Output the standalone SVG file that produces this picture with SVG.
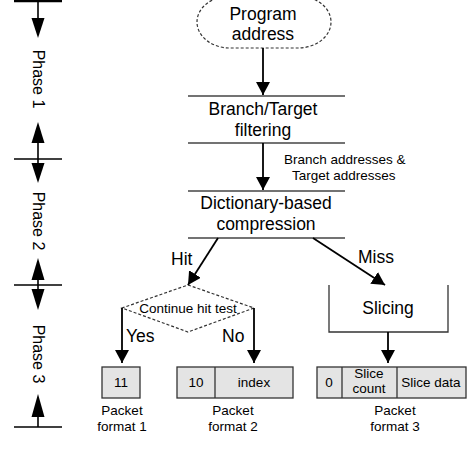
<svg xmlns="http://www.w3.org/2000/svg" width="474" height="462" viewBox="0 0 474 462">
<style>
text{font-family:"Liberation Sans",Arial,sans-serif;fill:#000}
.big{font-size:17.5px}
.mid{font-size:13.5px}
.lbl{font-size:13.5px}
.ph{font-size:16px}
.arr{stroke:#000;stroke-width:1.8;fill:none;marker-end:url(#ah)}
.hl{stroke:#444;stroke-width:1.4}
.ax{stroke:#000;stroke-width:1.6}
.box{fill:#e4e4e4;stroke:#333;stroke-width:1.3}
.dash{fill:#fff;stroke:#333;stroke-width:1.2;stroke-dasharray:3,2}
</style>
<defs>
<marker id="ah" markerUnits="userSpaceOnUse" markerWidth="15" markerHeight="14" refX="13" refY="7" orient="auto">
<path d="M0,0 L13,7 L0,14 z" fill="#000"/>
</marker>
</defs>
<g id="phase-axis">
<line class="ax" x1="38" y1="0" x2="38" y2="19"/>
<line class="ax" x1="38" y1="142" x2="38" y2="164"/>
<line class="ax" x1="38" y1="279" x2="38" y2="290"/>
<line class="ax" x1="38" y1="416" x2="38" y2="427"/>
<line class="ax" x1="14" y1="1" x2="62" y2="1" style="stroke-width:2.5"/>
<line class="ax" x1="14" y1="159" x2="62" y2="159"/>
<line class="ax" x1="14" y1="285" x2="62" y2="285"/>
<line class="ax" x1="14" y1="427" x2="62" y2="427"/>
<polygon points="31.5,18 44.5,18 38,38"/>
<polygon points="31.5,143 44.5,143 38,122"/>
<polygon points="31.5,163 44.5,163 38,183"/>
<polygon points="31.5,280 44.5,280 38,258"/>
<polygon points="31.5,289 44.5,289 38,310"/>
<polygon points="31.5,417 44.5,417 38,394"/>
<text class="ph" transform="translate(33,79) rotate(90)" text-anchor="middle">Phase 1</text>
<text class="ph" transform="translate(33,221) rotate(90)" text-anchor="middle">Phase 2</text>
<text class="ph" transform="translate(33,354) rotate(90)" text-anchor="middle">Phase 3</text>
</g>
<g id="program-address">
<rect class="dash" x="197" y="-4" width="134" height="52" rx="33" ry="26"/>
<text class="big" x="263" y="20" text-anchor="middle">Program</text>
<text class="big" x="263" y="40" text-anchor="middle">address</text>
</g>
<g id="branch-target-filtering">
<line class="hl" x1="188" y1="96" x2="345" y2="96"/>
<line class="hl" x1="188" y1="143" x2="345" y2="143"/>
<text class="big" x="263" y="115" text-anchor="middle">Branch/Target</text>
<text class="big" x="263" y="136" text-anchor="middle">filtering</text>
</g>
<g id="dictionary-compression">
<line class="hl" x1="188" y1="191" x2="345" y2="191"/>
<line class="hl" x1="188" y1="238" x2="345" y2="238"/>
<text class="big" x="266" y="209" text-anchor="middle">Dictionary-based</text>
<text class="big" x="266" y="230" text-anchor="middle">compression</text>
</g>
<g id="continue-hit-test">
<polygon class="dash" points="188,285 254,308 188,332 122,308"/>
<text class="mid" x="188" y="313" text-anchor="middle">Continue hit test</text>
</g>
<g id="slicing">
<polyline points="329,285 329,332 448,332 448,285" fill="none" stroke="#333" stroke-width="1.3"/>
<text class="big" x="388" y="314" text-anchor="middle">Slicing</text>
</g>
<g id="packet-format-1">
<rect class="box" x="102" y="367" width="38" height="31"/>
<text class="lbl" x="121" y="387" text-anchor="middle">11</text>
<text class="lbl" x="122" y="415" text-anchor="middle">Packet</text>
<text class="lbl" x="122" y="431" text-anchor="middle">format 1</text>
</g>
<g id="packet-format-2">
<rect class="box" x="177" y="367" width="116" height="31"/>
<line x1="215" y1="367" x2="215" y2="398" stroke="#333" stroke-width="1.3"/>
<text class="lbl" x="196" y="387" text-anchor="middle">10</text>
<text class="lbl" x="254" y="387" text-anchor="middle">index</text>
<text class="lbl" x="233" y="415" text-anchor="middle">Packet</text>
<text class="lbl" x="233" y="431" text-anchor="middle">format 2</text>
</g>
<g id="packet-format-3">
<rect class="box" x="317" y="367" width="149" height="31"/>
<line x1="342" y1="367" x2="342" y2="398" stroke="#333" stroke-width="1.3"/>
<line x1="397" y1="367" x2="397" y2="398" stroke="#333" stroke-width="1.3"/>
<text class="lbl" x="329" y="387" text-anchor="middle">0</text>
<text class="lbl" x="369" y="378" text-anchor="middle">Slice</text>
<text class="lbl" x="369" y="393" text-anchor="middle">count</text>
<text class="lbl" x="431" y="387" text-anchor="middle">Slice data</text>
<text class="lbl" x="395" y="415" text-anchor="middle">Packet</text>
<text class="lbl" x="395" y="431" text-anchor="middle">format 3</text>
</g>
<g id="connectors">
<line class="arr" x1="263" y1="48" x2="263" y2="95"/>
<line class="arr" x1="263" y1="143" x2="263" y2="190"/>
<line class="arr" x1="218" y1="238" x2="188" y2="285"/>
<line class="arr" x1="313" y1="238" x2="385" y2="285"/>
<polyline class="arr" points="122,308 122,363"/>
<polyline class="arr" points="254,308 254,363"/>
<line class="arr" x1="388" y1="332" x2="388" y2="363"/>
<text class="lbl" x="284" y="164">Branch addresses &amp;</text>
<text class="lbl" x="292" y="180">Target addresses</text>
<text class="big" x="171" y="265">Hit</text>
<text class="big" x="358" y="263">Miss</text>
<text class="big" x="126" y="342">Yes</text>
<text class="big" x="222" y="342">No</text>
</g>
</svg>
